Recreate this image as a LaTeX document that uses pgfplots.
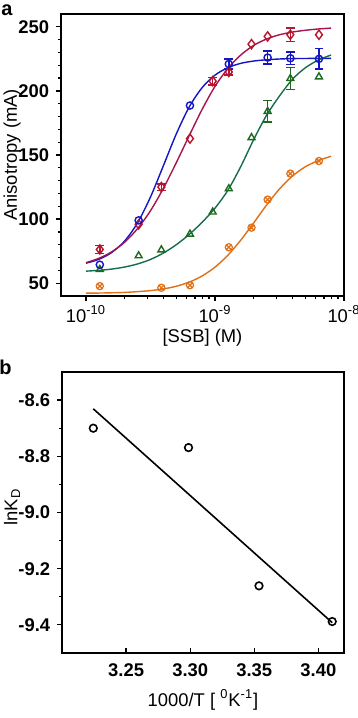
\documentclass[border=0pt]{standalone}
\usepackage{pgfplots}
\pgfplotsset{compat=1.18}
\usepackage{fontspec}
\setmainfont{Liberation Sans}
\definecolor{cblue}{RGB}{20,20,195}
\definecolor{cred}{RGB}{185,20,45}
\definecolor{credl}{RGB}{165,20,80}
\definecolor{cgreen}{RGB}{30,105,30}
\definecolor{cgreenl}{RGB}{20,110,75}
\definecolor{corange}{RGB}{222,112,25}
\pgfplotsset{
  every axis/.append style={font=\fontsize{9.2}{11}\selectfont},
  myaxis/.style={
    scale only axis,
    anchor=south west,
    axis line style={line width=0.75pt},
    every tick/.style={black, line width=0.6pt},
    major tick length=2.4pt,
    minor tick length=1.5pt,
    xtick pos=lower, ytick pos=left,
    clip=false,
  },
  eb/.style={error bars/.cd, y dir=both, y explicit,
    error bar style={line width=0.7pt},
    error mark options={rotate=90, line width=0.7pt, mark size=2.2pt}},
}
\begin{document}
\begin{tikzpicture}
\path[use as bounding box] (0,0) rectangle (179pt,359pt);
% ---------------- panel a ----------------
\begin{axis}[myaxis,
  at={(30.5pt,211pt)}, width=141.5pt, height=141pt,
  xmode=log, xmin=6.4e-11, xmax=1e-8,
  ymin=40, ymax=260,
  tick align=outside,
  xtick={1e-10,1e-9,1e-8},
  xticklabels={10\textsuperscript{-10},10\textsuperscript{-9},10\textsuperscript{-8}},
  xticklabel style={yshift=1.2pt},
  ytick={50,100,150,200,250},
  yticklabels={50,100,150,200,250},
  minor y tick num=4,
  yticklabel style={font=\fontsize{9.2}{11}\selectfont\bfseries},
  xlabel={[SSB] (M)},
  ylabel={Anisotropy (mA)},
  xlabel style={at={(axis description cs:0.5,-0.147)}, anchor=center},
  ylabel style={at={(axis description cs:-0.173,0.5)}, anchor=center},
]
% fitted curves
\addplot[cblue, line width=0.7pt, smooth] coordinates {
(1e-10,65.6) (1.2589e-10,68.6) (1.5849e-10,74.0) (1.9953e-10,82.9) (2.5119e-10,97.1)
(3.1623e-10,117.2) (3.9811e-10,141.6) (5.0119e-10,166.4) (6.3096e-10,187.4) (7.9433e-10,202.5)
(1e-9,212.3) (1.2589e-9,218.1) (1.5849e-9,221.5) (1.9953e-9,223.3) (2.5119e-9,224.3)
(3.1623e-9,224.9) (3.9811e-9,225.2) (5.0119e-9,225.3) (6.3096e-9,225.4) (7.9433e-9,225.4)};
\addplot[credl, line width=0.7pt, smooth] coordinates {
(1e-10,66.0) (1.2589e-10,69.4) (1.5849e-10,74.5) (1.9953e-10,82.0) (2.5119e-10,92.6)
(3.1623e-10,106.5) (3.9811e-10,124.0) (5.0119e-10,144.0) (6.3096e-10,165.0) (7.9433e-10,185.5)
(1e-9,203.5) (1.2589e-9,217.5) (1.5849e-9,228.0) (1.9953e-9,235.5) (2.5119e-9,240.5)
(3.1623e-9,243.8) (3.9811e-9,245.9) (5.0119e-9,247.3) (6.3096e-9,248.3) (7.9433e-9,249.0)};
\addplot[cgreenl, line width=0.7pt, smooth] coordinates {
(1e-10,59.4) (1.2589e-10,60.0) (1.5849e-10,61.0) (1.9953e-10,62.6) (2.5119e-10,65.0)
(3.1623e-10,68.5) (3.9811e-10,73.5) (5.0119e-10,80.0) (6.3096e-10,88.0) (7.9433e-10,97.5)
(1e-9,108.5) (1.2589e-9,122.5) (1.5849e-9,141.0) (1.9953e-9,162.0) (2.5119e-9,181.0)
(3.1623e-9,196.0) (3.9811e-9,209.0) (5.0119e-9,218.0) (6.3096e-9,224.0) (7.9433e-9,228.0)};
\addplot[corange, line width=0.7pt, smooth] coordinates {
(1e-10,42.2) (1.2589e-10,42.3) (1.5849e-10,42.5) (1.9953e-10,42.8) (2.5119e-10,43.4)
(3.1623e-10,44.2) (3.9811e-10,45.5) (5.0119e-10,47.6) (6.3096e-10,50.8) (7.9433e-10,55.6)
(1e-9,62.5) (1.2589e-9,71.8) (1.5849e-9,83.6) (1.9953e-9,97.0) (2.5119e-9,111.0)
(3.1623e-9,123.5) (3.9811e-9,133.5) (5.0119e-9,140.8) (6.3096e-9,145.6) (7.9433e-9,149.0)};
% data: orange (circle with x)
\addplot[only marks, corange, mark=otimes, mark size=1.8pt, mark options={line width=0.6pt}] coordinates {
(1.28e-10,47.7) (3.84e-10,46.4) (6.4e-10,48.4) (1.28e-9,78.0) (1.92e-9,93.3)
(2.56e-9,115.2) (3.84e-9,135.5) (6.4e-9,145.3)};
% data: green triangles
\addplot[only marks, cgreen, mark=triangle, mark size=2.0pt, mark options={line width=0.7pt}] coordinates {
(1.28e-10,60.7) (2.56e-10,71.4) (3.84e-10,76.0) (6.4e-10,88.3) (9.6e-10,105.5)
(1.28e-9,123.7) (1.92e-9,163.6) (6.4e-9,211.0)};
\addplot[only marks, cgreen, mark=triangle, mark size=2.0pt, mark options={line width=0.7pt}, eb] coordinates {
(2.56e-9,184.0) +- (0,8.3) (3.84e-9,209.7) +- (0,8.5)};
% data: red diamonds
\addplot[only marks, cred, mark=diamond, mark size=2.3pt, mark options={line width=0.7pt}] coordinates {
(2.56e-10,95.9) (6.4e-10,162.8) (1.92e-9,236.5) (2.56e-9,242.5) (6.4e-9,243.8)};
\addplot[only marks, cred, mark=diamond, mark size=2.3pt, mark options={line width=0.7pt}, eb] coordinates {
(1.28e-10,76.3) +- (0,3) (3.84e-10,125.0) +- (0,2.5) (9.6e-10,207.6) +- (0,3)
(1.28e-9,214.8) +- (0,2.5) (3.84e-9,243.8) +- (0,5.2)};
% data: blue circles
\addplot[only marks, cblue, mark=o, mark size=1.8pt, mark options={line width=0.7pt}] coordinates {
(1.28e-10,64.4) (2.56e-10,99.0) (6.4e-10,188.6)};
\addplot[only marks, cblue, mark=o, mark size=1.8pt, mark options={line width=0.7pt}, eb] coordinates {
(1.28e-9,221.0) +- (0,4) (2.56e-9,226.0) +- (0,5) (3.84e-9,225.5) +- (0,5) (6.4e-9,225.0) +- (0,8)};
\end{axis}
% ---------------- panel b ----------------
\begin{axis}[myaxis,
  at={(31pt,32.5pt)}, width=141pt, height=140.5pt,
  xmin=3.2, xmax=3.42, ymin=-9.5, ymax=-8.5,
  tick align=inside,
  every major y tick/.append style={xshift=-2.4pt},
  every minor y tick/.append style={xshift=-1.5pt},
  xtick={3.25,3.30,3.35,3.40},
  xticklabels={3.25,3.30,3.35,3.40},
  ytick={-9.4,-9.2,-9.0,-8.8,-8.6},
  yticklabels={-9.4,-9.2,-9.0,-8.8,-8.6},
  minor y tick num=1,
  ticklabel style={font=\fontsize{9.2}{11}\selectfont\bfseries},
  yticklabel style={xshift=-2.4pt},
  xticklabel style={yshift=-2pt},
  xlabel={1000/T [ \textsuperscript{0}K\textsuperscript{-1}]},
  ylabel={lnK\textsubscript{D}},
  xlabel style={at={(axis description cs:0.5,-0.167)}, anchor=center},
  ylabel style={at={(axis description cs:-0.177,0.52)}, anchor=center},
]
\addplot[black, line width=0.8pt] coordinates {(3.2244,-8.631) (3.4108,-9.392)};
\addplot[only marks, black, mark=o, mark size=1.9pt, mark options={line width=0.8pt}] coordinates {
(3.2244,-8.700) (3.2987,-8.769) (3.3537,-9.261) (3.4108,-9.388)};
\end{axis}
\node[font=\fontsize{10}{11}\selectfont\bfseries, inner sep=0pt] at (3.5pt,354pt) {a};
\node[font=\fontsize{10}{11}\selectfont\bfseries, inner sep=0pt] at (2.8pt,175.5pt) {b};
\end{tikzpicture}
\end{document}
